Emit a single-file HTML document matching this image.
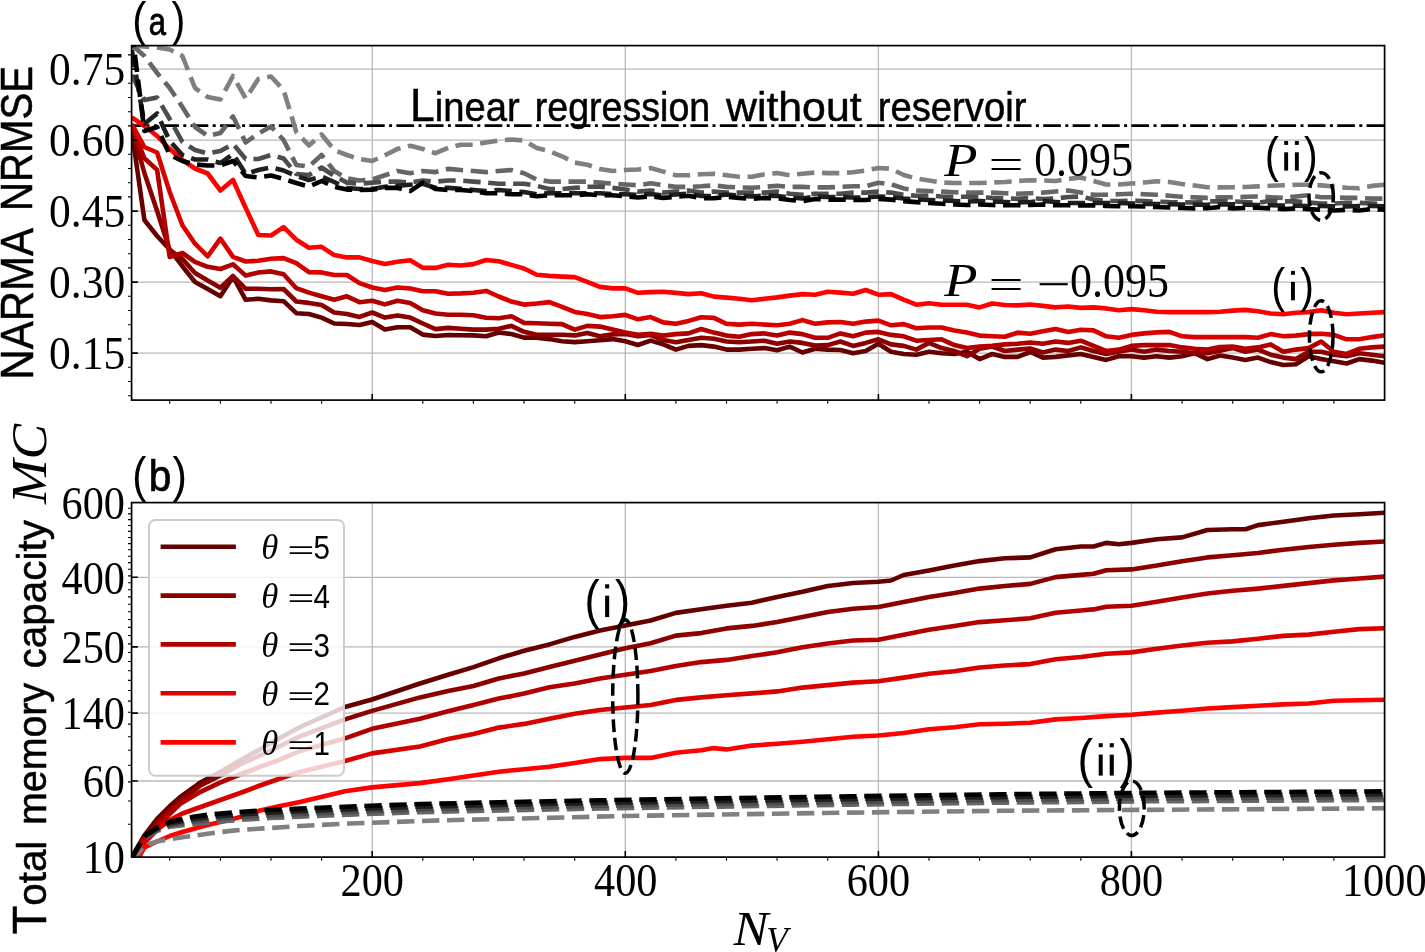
<!DOCTYPE html>
<html><head><meta charset="utf-8"><style>html,body{margin:0;padding:0;background:#fff;overflow:hidden}svg{display:block}</style></head>
<body><svg width="1425" height="952" viewBox="0 0 1425 952">
<defs>
<clipPath id="ca"><rect x="131.6" y="45.6" width="1253.0" height="354.5"/></clipPath>
<clipPath id="cb"><rect x="131.6" y="502.6" width="1253.0" height="354.5"/></clipPath>
</defs>
<rect width="1425" height="952" fill="#fff"/>
<g>
<line x1="372.2" y1="45.6" x2="372.2" y2="400.1" stroke="#b8b8b8" stroke-width="1.3"/>
<line x1="625.3" y1="45.6" x2="625.3" y2="400.1" stroke="#b8b8b8" stroke-width="1.3"/>
<line x1="878.4" y1="45.6" x2="878.4" y2="400.1" stroke="#b8b8b8" stroke-width="1.3"/>
<line x1="1131.4" y1="45.6" x2="1131.4" y2="400.1" stroke="#b8b8b8" stroke-width="1.3"/>
<line x1="131.6" y1="353.1" x2="1384.6" y2="353.1" stroke="#b8b8b8" stroke-width="1.3"/>
<line x1="131.6" y1="282.1" x2="1384.6" y2="282.1" stroke="#b8b8b8" stroke-width="1.3"/>
<line x1="131.6" y1="211.1" x2="1384.6" y2="211.1" stroke="#b8b8b8" stroke-width="1.3"/>
<line x1="131.6" y1="140.1" x2="1384.6" y2="140.1" stroke="#b8b8b8" stroke-width="1.3"/>
<line x1="131.6" y1="69.1" x2="1384.6" y2="69.1" stroke="#b8b8b8" stroke-width="1.3"/>
</g>
<g clip-path="url(#ca)">
<line x1="131.8" y1="125.7" x2="1384.6" y2="125.7" stroke="#000" stroke-width="2.8" stroke-dasharray="17.7 4.4 3.0 4.3"/>
<polyline points="131.8,131.0 144.4,220.0 157.1,236.0 169.7,249.5 182.4,266.2 195.0,282.0 207.7,289.0 220.4,296.2 233.0,276.7 245.7,299.8 258.3,298.8 271.0,300.4 283.6,301.2 296.3,313.2 308.9,314.0 321.6,317.6 334.2,323.5 346.9,324.0 359.5,325.0 372.2,322.1 384.9,329.4 397.5,327.2 410.2,327.2 422.8,334.6 435.5,336.0 448.1,335.0 460.8,335.2 473.4,335.4 486.1,336.2 498.7,332.5 511.4,334.0 524.0,337.6 536.7,337.6 549.4,339.1 562.0,341.3 574.7,342.1 587.3,341.3 600.0,340.3 612.6,339.1 625.3,341.3 637.9,345.0 650.6,340.6 663.2,344.4 675.9,349.6 688.5,345.9 701.2,345.1 713.9,346.6 726.5,349.6 739.2,349.6 751.8,348.8 764.5,348.1 777.1,350.3 789.8,346.6 802.4,352.5 815.1,348.8 827.7,349.6 840.4,350.0 853.1,353.2 865.7,351.0 878.4,343.7 891.0,351.8 903.7,354.0 916.3,354.7 929.0,351.8 941.6,353.2 954.3,354.0 966.9,351.8 979.6,359.1 992.2,354.0 1004.9,356.9 1017.6,356.9 1030.2,352.0 1042.9,357.6 1055.5,356.9 1068.2,355.4 1080.8,354.0 1093.5,356.9 1106.1,359.9 1118.8,356.2 1131.4,356.2 1144.1,357.6 1156.7,356.2 1169.4,357.6 1182.1,356.2 1194.7,353.2 1207.4,359.1 1220.0,355.5 1232.7,357.6 1245.3,359.9 1258.0,357.6 1270.6,362.1 1283.3,365.0 1295.9,364.3 1308.6,356.2 1321.2,359.1 1333.9,361.3 1346.6,363.5 1359.2,359.1 1371.9,360.6 1384.5,362.8" fill="none" stroke="#660000" stroke-width="4.6" stroke-linejoin="round" stroke-linecap="butt"/>
<polyline points="131.8,128.0 144.4,173.0 157.1,211.0 169.7,250.0 182.4,259.0 195.0,273.0 207.7,280.5 220.4,287.8 233.0,276.0 245.7,288.8 258.3,288.8 271.0,289.3 283.6,289.0 296.3,301.5 308.9,302.9 321.6,305.1 334.2,312.5 346.9,314.0 359.5,316.9 372.2,312.5 384.9,317.6 397.5,315.4 410.2,317.6 422.8,323.5 435.5,329.1 448.1,327.9 460.8,328.7 473.4,329.6 486.1,329.6 498.7,328.8 511.4,325.9 524.0,331.8 536.7,334.7 549.4,334.7 562.0,334.7 574.7,335.4 587.3,332.9 600.0,336.2 612.6,334.4 625.3,334.0 637.9,336.2 650.6,335.0 663.2,340.0 675.9,342.2 688.5,340.0 701.2,337.8 713.9,338.8 726.5,341.5 739.2,342.2 751.8,341.5 764.5,340.7 777.1,343.7 789.8,341.5 802.4,342.9 815.1,345.6 827.7,345.1 840.4,341.5 853.1,345.9 865.7,342.9 878.4,339.3 891.0,344.4 903.7,345.9 916.3,349.6 929.0,342.9 941.6,348.1 954.3,351.0 966.9,356.2 979.6,348.8 992.2,346.6 1004.9,351.0 1017.6,349.6 1030.2,348.5 1042.9,352.5 1055.5,349.6 1068.2,351.0 1080.8,347.4 1093.5,351.0 1106.1,354.0 1118.8,351.8 1131.4,349.6 1144.1,351.8 1156.7,349.6 1169.4,351.0 1182.1,351.8 1194.7,353.2 1207.4,353.2 1220.0,350.7 1232.7,348.1 1245.3,351.8 1258.0,349.6 1270.6,354.7 1283.3,357.6 1295.9,359.1 1308.6,351.8 1321.2,351.8 1333.9,354.7 1346.6,356.2 1359.2,353.2 1371.9,354.7 1384.5,356.2" fill="none" stroke="#8c0000" stroke-width="4.6" stroke-linejoin="round" stroke-linecap="butt"/>
<polyline points="131.8,126.0 144.4,158.3 157.1,169.9 169.7,257.0 182.4,253.0 195.0,261.8 207.7,266.8 220.4,269.0 233.0,264.3 245.7,275.6 258.3,272.5 271.0,271.4 283.6,274.3 296.3,288.2 308.9,292.6 321.6,296.3 334.2,299.7 346.9,296.3 359.5,302.2 372.2,300.7 384.9,304.4 397.5,300.7 410.2,302.9 422.8,310.3 435.5,313.5 448.1,314.7 460.8,314.8 473.4,315.3 486.1,317.8 498.7,318.2 511.4,316.3 524.0,322.9 536.7,323.2 549.4,323.7 562.0,324.1 574.7,329.6 587.3,325.9 600.0,326.6 612.6,329.6 625.3,332.5 637.9,334.7 650.6,333.7 663.2,335.6 675.9,334.1 688.5,333.4 701.2,329.0 713.9,332.6 726.5,335.6 739.2,336.8 751.8,334.1 764.5,333.4 777.1,335.6 789.8,332.6 802.4,334.1 815.1,337.8 827.7,337.8 840.4,333.4 853.1,336.3 865.7,332.6 878.4,331.9 891.0,334.9 903.7,336.3 916.3,340.7 929.0,340.0 941.6,339.3 954.3,345.1 966.9,348.1 979.6,346.6 992.2,345.9 1004.9,344.4 1017.6,343.7 1030.2,342.5 1042.9,343.7 1055.5,341.5 1068.2,342.9 1080.8,340.7 1093.5,345.9 1106.1,351.0 1118.8,349.6 1131.4,345.9 1144.1,345.1 1156.7,345.1 1169.4,345.1 1182.1,347.4 1194.7,348.8 1207.4,349.6 1220.0,347.0 1232.7,346.6 1245.3,348.8 1258.0,347.4 1270.6,344.4 1283.3,351.8 1295.9,349.6 1308.6,348.1 1321.2,341.5 1333.9,351.8 1346.6,354.0 1359.2,348.8 1371.9,347.4 1384.5,346.6" fill="none" stroke="#b20000" stroke-width="4.6" stroke-linejoin="round" stroke-linecap="butt"/>
<polyline points="131.8,124.0 144.4,147.0 157.1,152.5 169.7,192.0 182.4,225.3 195.0,243.7 207.7,256.3 220.4,238.6 233.0,256.9 245.7,261.5 258.3,260.8 271.0,258.7 283.6,258.1 296.3,263.2 308.9,272.1 321.6,272.4 334.2,275.0 346.9,275.0 359.5,283.1 372.2,287.5 384.9,290.0 397.5,287.5 410.2,288.5 422.8,291.2 435.5,291.2 448.1,293.7 460.8,293.4 473.4,292.8 486.1,290.9 498.7,296.5 511.4,301.6 524.0,304.6 536.7,303.5 549.4,302.1 562.0,306.8 574.7,311.9 587.3,314.1 600.0,317.1 612.6,316.3 625.3,314.9 637.9,319.3 650.6,317.1 663.2,322.4 675.9,323.8 688.5,320.9 701.2,317.2 713.9,317.9 726.5,323.8 739.2,324.6 751.8,323.8 764.5,324.6 777.1,325.3 789.8,323.8 802.4,320.1 815.1,323.8 827.7,322.4 840.4,322.0 853.1,323.8 865.7,321.6 878.4,320.6 891.0,325.3 903.7,324.1 916.3,328.2 929.0,327.5 941.6,327.5 954.3,330.4 966.9,332.6 979.6,335.6 992.2,336.3 1004.9,336.8 1017.6,332.6 1030.2,333.8 1042.9,331.2 1055.5,329.0 1068.2,331.9 1080.8,329.7 1093.5,330.4 1106.1,336.3 1118.8,337.8 1131.4,334.9 1144.1,333.4 1156.7,332.4 1169.4,331.9 1182.1,336.3 1194.7,337.1 1207.4,337.1 1220.0,337.1 1232.7,337.1 1245.3,337.1 1258.0,337.8 1270.6,334.1 1283.3,336.3 1295.9,335.6 1308.6,334.1 1321.2,333.8 1333.9,334.9 1346.6,339.3 1359.2,339.3 1371.9,337.1 1384.5,335.3" fill="none" stroke="#d90000" stroke-width="4.6" stroke-linejoin="round" stroke-linecap="butt"/>
<polyline points="131.8,117.5 144.4,126.0 157.1,136.0 169.7,149.0 182.4,160.0 195.0,168.5 207.7,173.5 220.4,190.5 233.0,180.0 245.7,208.0 258.3,235.0 271.0,235.5 283.6,227.2 296.3,239.7 308.9,247.8 321.6,246.8 334.2,255.1 346.9,257.4 359.5,257.4 372.2,261.0 384.9,264.0 397.5,261.8 410.2,260.3 422.8,267.9 435.5,267.9 448.1,264.7 460.8,265.5 473.4,264.1 486.1,260.0 498.7,261.2 511.4,264.9 524.0,268.5 536.7,274.7 549.4,275.9 562.0,276.6 574.7,277.1 587.3,281.8 600.0,286.9 612.6,288.4 625.3,288.4 637.9,292.8 650.6,292.1 663.2,291.8 675.9,292.9 688.5,294.1 701.2,293.2 713.9,296.6 726.5,297.6 739.2,298.8 751.8,300.3 764.5,298.8 777.1,297.4 789.8,295.6 802.4,294.1 815.1,294.7 827.7,291.8 840.4,292.6 853.1,293.7 865.7,290.0 878.4,294.7 891.0,294.1 903.7,299.6 916.3,304.7 929.0,303.2 941.6,304.7 954.3,304.7 966.9,304.7 979.6,307.4 992.2,303.5 1004.9,305.0 1017.6,305.4 1030.2,304.5 1042.9,305.9 1055.5,307.4 1068.2,306.5 1080.8,307.9 1093.5,307.4 1106.1,308.4 1118.8,310.3 1131.4,309.1 1144.1,310.3 1156.7,311.8 1169.4,312.1 1182.1,312.1 1194.7,312.1 1207.4,312.1 1220.0,311.7 1232.7,310.6 1245.3,309.9 1258.0,311.3 1270.6,313.5 1283.3,314.3 1295.9,312.8 1308.6,312.1 1321.2,310.3 1333.9,312.8 1346.6,314.3 1359.2,313.5 1371.9,312.8 1384.5,312.1" fill="none" stroke="#ff0000" stroke-width="4.6" stroke-linejoin="round" stroke-linecap="butt"/>
<polyline points="131.8,46.0 144.4,46.5 157.1,47.5 169.7,49.5 182.4,56.0 195.0,88.0 207.7,97.0 220.4,99.5 233.0,76.0 245.7,98.5 258.3,79.0 271.0,76.5 283.6,90.0 296.3,132.0 308.9,145.5 321.6,134.5 334.2,150.0 346.9,155.0 359.5,159.0 372.2,161.0 384.9,155.3 397.5,148.9 410.2,145.8 422.8,148.9 435.5,153.2 448.1,147.9 460.8,144.7 473.4,144.7 486.1,142.6 498.7,140.5 511.4,139.5 524.0,140.5 536.7,147.9 549.4,151.1 562.0,156.3 574.7,162.6 587.3,164.7 600.0,168.9 612.6,171.0 625.3,170.0 637.9,169.5 650.6,168.0 663.2,171.6 675.9,175.2 688.5,175.2 701.2,174.3 713.9,173.7 726.5,175.2 739.2,176.8 751.8,176.8 764.5,174.3 777.1,173.1 789.8,175.2 802.4,173.7 815.1,172.6 827.7,173.1 840.4,173.1 853.1,172.2 865.7,170.5 878.4,168.0 891.0,168.8 903.7,175.0 916.3,178.5 929.0,180.5 941.6,182.5 954.3,183.0 966.9,183.0 979.6,183.0 992.2,182.5 1004.9,182.0 1017.6,181.0 1030.2,180.2 1042.9,180.5 1055.5,181.0 1068.2,179.0 1080.8,177.5 1093.5,181.0 1106.1,184.5 1118.8,184.5 1131.4,183.5 1144.1,182.5 1156.7,181.3 1169.4,182.0 1182.1,184.0 1194.7,185.5 1207.4,187.2 1220.0,187.4 1232.7,187.2 1245.3,187.0 1258.0,186.4 1270.6,185.8 1283.3,185.3 1295.9,184.7 1308.6,184.8 1321.2,185.4 1333.9,186.5 1346.6,187.8 1359.2,188.2 1371.9,185.9 1384.5,184.8" fill="none" stroke="#808080" stroke-width="4.6" stroke-linejoin="round" stroke-linecap="butt" stroke-dasharray="17.4 7.6"/>
<polyline points="131.8,45.0 144.4,56.0 157.1,73.0 169.7,88.0 182.4,107.0 195.0,127.0 207.7,136.0 220.4,133.0 233.0,116.5 245.7,142.5 258.3,133.5 271.0,126.5 283.6,140.0 296.3,165.0 308.9,166.5 321.6,155.0 334.2,171.0 346.9,178.4 359.5,180.5 372.2,179.5 384.9,175.3 397.5,171.0 410.2,173.2 422.8,171.0 435.5,172.1 448.1,168.9 460.8,170.0 473.4,171.0 486.1,172.1 498.7,171.0 511.4,170.0 524.0,173.2 536.7,179.5 549.4,181.6 562.0,181.6 574.7,181.6 587.3,181.6 600.0,182.6 612.6,183.7 625.3,184.5 637.9,185.3 650.6,183.2 663.2,185.3 675.9,186.9 688.5,186.9 701.2,186.3 713.9,185.3 726.5,186.9 739.2,187.4 751.8,187.8 764.5,186.9 777.1,185.7 789.8,186.9 802.4,186.9 815.1,187.4 827.7,187.4 840.4,186.9 853.1,186.3 865.7,186.3 878.4,182.7 891.0,184.2 903.7,188.4 916.3,190.5 929.0,191.0 941.6,191.6 954.3,192.2 966.9,192.6 979.6,192.6 992.2,192.6 1004.9,193.2 1017.6,193.7 1030.2,193.2 1042.9,192.6 1055.5,191.5 1068.2,190.5 1080.8,192.5 1093.5,194.7 1106.1,194.7 1118.8,194.2 1131.4,193.7 1144.1,194.2 1156.7,194.7 1169.4,195.7 1182.1,196.8 1194.7,197.4 1207.4,197.9 1220.0,197.2 1232.7,197.2 1245.3,196.8 1258.0,196.5 1270.6,197.2 1283.3,197.9 1295.9,196.5 1308.6,195.1 1321.2,197.2 1333.9,197.2 1346.6,197.9 1359.2,197.9 1371.9,198.6 1384.5,198.6" fill="none" stroke="#666666" stroke-width="4.6" stroke-linejoin="round" stroke-linecap="butt" stroke-dasharray="17.4 7.6"/>
<polyline points="131.8,75.0 144.4,100.0 157.1,97.5 169.7,119.0 182.4,142.0 195.0,150.0 207.7,153.5 220.4,151.0 233.0,144.0 245.7,159.0 258.3,159.0 271.0,155.0 283.6,158.5 296.3,174.0 308.9,175.0 321.6,167.5 334.2,176.0 346.9,182.6 359.5,183.7 372.2,182.6 384.9,181.6 397.5,181.6 410.2,182.6 422.8,180.5 435.5,181.6 448.1,180.5 460.8,180.5 473.4,181.6 486.1,182.6 498.7,183.7 511.4,183.7 524.0,183.7 536.7,185.8 549.4,189.0 562.0,189.0 574.7,187.9 587.3,186.8 600.0,186.8 612.6,187.9 625.3,189.5 637.9,191.6 650.6,190.5 663.2,192.6 675.9,191.6 688.5,190.5 701.2,192.6 713.9,191.6 726.5,192.6 739.2,192.6 751.8,192.6 764.5,192.6 777.1,191.6 789.8,193.7 802.4,194.7 815.1,193.7 827.7,193.7 840.4,193.7 853.1,192.6 865.7,192.6 878.4,191.6 891.0,192.6 903.7,194.7 916.3,195.8 929.0,195.5 941.6,196.5 954.3,196.8 966.9,196.8 979.6,197.2 992.2,197.9 1004.9,198.3 1017.6,198.9 1030.2,198.0 1042.9,199.0 1055.5,198.5 1068.2,197.0 1080.8,196.5 1093.5,199.5 1106.1,201.0 1118.8,201.0 1131.4,200.8 1144.1,201.1 1156.7,201.6 1169.4,202.1 1182.1,202.3 1194.7,202.5 1207.4,201.4 1220.0,201.4 1232.7,201.4 1245.3,202.0 1258.0,202.8 1270.6,200.7 1283.3,201.4 1295.9,201.4 1308.6,202.5 1321.2,203.5 1333.9,203.5 1346.6,202.8 1359.2,202.8 1371.9,203.5 1384.5,204.0" fill="none" stroke="#4d4d4d" stroke-width="4.6" stroke-linejoin="round" stroke-linecap="butt" stroke-dasharray="17.4 7.6"/>
<polyline points="131.8,50.0 144.4,124.0 157.1,113.5 169.7,141.0 182.4,155.0 195.0,159.5 207.7,159.5 220.4,163.0 233.0,154.0 245.7,174.0 258.3,170.0 271.0,167.5 283.6,170.5 296.3,176.0 308.9,180.0 321.6,176.5 334.2,182.0 346.9,188.0 359.5,189.0 372.2,188.9 384.9,186.8 397.5,185.8 410.2,184.7 422.8,183.7 435.5,187.9 448.1,187.9 460.8,188.9 473.4,190.0 486.1,191.1 498.7,190.0 511.4,191.1 524.0,192.1 536.7,194.2 549.4,193.2 562.0,193.2 574.7,193.2 587.3,193.2 600.0,193.2 612.6,194.2 625.3,194.2 637.9,195.0 650.6,194.0 663.2,195.5 675.9,194.5 688.5,193.5 701.2,196.0 713.9,196.0 726.5,194.5 739.2,195.5 751.8,196.5 764.5,195.5 777.1,196.0 789.8,197.5 802.4,198.5 815.1,196.5 827.7,197.0 840.4,197.0 853.1,197.5 865.7,197.5 878.4,196.5 891.0,197.0 903.7,198.5 916.3,199.5 929.0,200.0 941.6,200.5 954.3,201.0 966.9,201.5 979.6,201.0 992.2,201.5 1004.9,202.0 1017.6,202.5 1030.2,202.0 1042.9,201.0 1055.5,202.0 1068.2,203.0 1080.8,203.0 1093.5,203.0 1106.1,203.0 1118.8,203.0 1131.4,203.5 1144.1,204.0 1156.7,204.0 1169.4,204.3 1182.1,204.5 1194.7,204.7 1207.4,204.7 1220.0,204.5 1232.7,204.3 1245.3,204.7 1258.0,205.0 1270.6,205.3 1283.3,205.5 1295.9,205.7 1308.6,206.0 1321.2,206.0 1333.9,206.3 1346.6,206.5 1359.2,206.0 1371.9,206.0 1384.5,206.3" fill="none" stroke="#1f1f1f" stroke-width="4.6" stroke-linejoin="round" stroke-linecap="butt" stroke-dasharray="17.4 7.6"/>
<polyline points="131.8,30.0 144.4,131.0 157.1,127.0 169.7,155.0 182.4,161.0 195.0,164.5 207.7,165.5 220.4,165.5 233.0,161.0 245.7,176.0 258.3,177.5 271.0,175.5 283.6,179.0 296.3,183.0 308.9,186.5 321.6,181.0 334.2,186.8 346.9,189.6 359.5,190.0 372.2,189.6 384.9,187.9 397.5,187.9 410.2,191.1 422.8,182.6 435.5,188.9 448.1,190.0 460.8,190.0 473.4,191.1 486.1,193.2 498.7,193.2 511.4,194.2 524.0,194.2 536.7,196.3 549.4,195.3 562.0,195.3 574.7,195.3 587.3,194.2 600.0,195.3 612.6,195.3 625.3,196.3 637.9,197.5 650.6,196.2 663.2,197.9 675.9,196.8 688.5,195.8 701.2,198.3 713.9,198.3 726.5,196.8 739.2,197.9 751.8,198.9 764.5,197.9 777.1,198.3 789.8,200.0 802.4,201.1 815.1,198.9 827.7,199.6 840.4,199.6 853.1,200.0 865.7,200.0 878.4,198.9 891.0,199.6 903.7,201.1 916.3,202.1 929.0,203.0 941.6,203.8 954.3,204.5 966.9,205.0 979.6,204.5 992.2,205.0 1004.9,205.3 1017.6,205.3 1030.2,205.0 1042.9,204.5 1055.5,205.3 1068.2,205.3 1080.8,205.5 1093.5,205.3 1106.1,206.0 1118.8,206.3 1131.4,206.3 1144.1,206.5 1156.7,207.0 1169.4,207.5 1182.1,208.0 1194.7,208.4 1207.4,208.2 1220.0,207.0 1232.7,208.4 1245.3,208.0 1258.0,207.7 1270.6,208.4 1283.3,209.1 1295.9,208.4 1308.6,209.1 1321.2,209.8 1333.9,210.5 1346.6,209.8 1359.2,210.5 1371.9,209.1 1384.5,209.8" fill="none" stroke="#000000" stroke-width="4.6" stroke-linejoin="round" stroke-linecap="butt" stroke-dasharray="17.4 7.6"/>
</g>
<g>
<line x1="372.2" y1="502.6" x2="372.2" y2="857.1" stroke="#b8b8b8" stroke-width="1.3"/>
<line x1="625.3" y1="502.6" x2="625.3" y2="857.1" stroke="#b8b8b8" stroke-width="1.3"/>
<line x1="878.4" y1="502.6" x2="878.4" y2="857.1" stroke="#b8b8b8" stroke-width="1.3"/>
<line x1="1131.4" y1="502.6" x2="1131.4" y2="857.1" stroke="#b8b8b8" stroke-width="1.3"/>
<line x1="131.6" y1="781.0" x2="1384.6" y2="781.0" stroke="#b8b8b8" stroke-width="1.3"/>
<line x1="131.6" y1="713.1" x2="1384.6" y2="713.1" stroke="#b8b8b8" stroke-width="1.3"/>
<line x1="131.6" y1="646.9" x2="1384.6" y2="646.9" stroke="#b8b8b8" stroke-width="1.3"/>
<line x1="131.6" y1="577.3" x2="1384.6" y2="577.3" stroke="#b8b8b8" stroke-width="1.3"/>
</g>
<g clip-path="url(#cb)">
<polyline points="131.8,857.0 144.4,835.3 157.1,818.9 169.7,806.3 180.0,797.1 195.0,786.5 200.0,782.7 220.0,772.0 240.0,760.6 260.0,749.2 280.0,738.0 300.0,727.0 345.0,707.0 372.0,699.5 420.0,683.5 448.1,674.7 473.5,667.1 498.8,658.3 524.1,650.7 549.4,644.4 574.7,636.9 600.0,630.6 625.3,625.5 650.6,620.5 675.9,612.9 701.2,609.2 726.6,605.7 751.9,602.7 777.2,596.9 802.5,591.8 827.8,586.0 853.1,583.0 878.4,581.8 891.0,580.5 903.7,575.0 929.0,570.4 954.3,565.4 979.6,561.1 1004.9,558.3 1030.3,557.4 1055.6,549.2 1080.9,546.5 1093.6,546.5 1106.2,542.9 1118.9,544.3 1131.5,542.9 1156.8,539.3 1182.1,537.4 1207.4,530.0 1232.7,529.2 1245.5,529.2 1258.0,525.1 1283.4,521.8 1308.7,518.3 1334.0,515.5 1359.3,514.2 1384.6,512.8" fill="none" stroke="#660000" stroke-width="4.6" stroke-linejoin="round" stroke-linecap="butt"/>
<polyline points="131.8,857.0 144.4,837.8 157.1,822.7 169.7,810.1 180.0,801.0 200.0,785.8 220.0,775.7 240.0,764.4 260.0,755.5 280.0,746.1 300.0,736.4 345.0,719.4 372.0,710.9 420.0,697.4 448.1,691.1 473.5,686.0 498.8,678.5 524.1,673.4 549.4,667.1 574.7,660.8 600.0,654.5 625.3,648.2 650.6,643.2 675.9,635.6 701.2,633.1 726.6,628.4 751.9,625.9 777.2,622.1 802.5,617.1 827.8,612.0 853.1,608.7 878.4,607.0 903.7,601.9 929.0,596.9 954.3,593.1 979.6,588.6 1004.9,586.0 1030.3,583.9 1055.6,577.1 1080.9,574.9 1093.6,573.8 1106.2,570.3 1131.5,569.4 1156.8,565.6 1182.1,561.2 1207.4,557.4 1232.7,555.2 1258.0,553.0 1283.4,549.7 1308.7,547.0 1334.0,544.8 1359.3,542.9 1384.6,541.5" fill="none" stroke="#8c0000" stroke-width="4.6" stroke-linejoin="round" stroke-linecap="butt"/>
<polyline points="131.8,857.0 144.4,839.0 157.1,826.0 169.7,814.0 180.0,804.0 200.0,792.1 220.0,782.7 240.0,774.5 260.0,766.9 280.0,759.6 300.0,751.0 345.0,738.3 372.0,728.8 420.0,718.8 448.1,711.2 473.5,704.9 498.8,698.6 524.1,693.6 549.4,687.3 574.7,683.5 600.0,678.5 625.3,674.7 650.6,670.9 675.9,665.9 701.2,662.1 726.6,659.9 751.9,656.1 777.2,652.3 802.5,647.3 827.8,643.5 853.1,640.5 878.4,639.7 903.7,634.7 929.0,629.7 954.3,625.9 979.6,622.1 1004.9,620.3 1030.3,618.2 1055.6,612.7 1080.9,610.5 1093.6,609.4 1106.2,606.7 1131.5,605.8 1156.8,601.7 1182.1,597.6 1207.4,593.5 1232.7,590.8 1258.0,588.6 1283.4,585.9 1308.7,583.1 1334.0,580.4 1359.3,578.5 1384.6,576.6" fill="none" stroke="#b20000" stroke-width="4.6" stroke-linejoin="round" stroke-linecap="butt"/>
<polyline points="131.8,860.0 144.4,843.0 157.1,830.0 169.7,820.0 182.4,813.5 195.0,809.0 207.7,804.5 220.3,800.0 233.0,795.5 245.7,791.0 260.0,785.5 280.0,778.5 300.0,772.0 345.0,761.0 372.0,753.4 420.0,746.5 448.1,739.0 473.5,733.9 498.8,727.6 524.1,723.9 549.4,718.8 574.7,713.8 600.0,710.0 625.3,707.5 650.6,705.0 675.9,699.9 701.2,697.4 726.6,695.2 751.9,693.4 777.2,691.4 802.5,687.6 827.8,685.1 853.1,682.6 878.4,681.3 903.7,677.6 929.0,673.8 954.3,671.3 979.6,667.5 1004.9,665.5 1030.3,664.1 1055.6,659.2 1080.9,657.0 1106.2,653.7 1131.5,652.4 1156.8,648.8 1182.1,645.5 1207.4,642.8 1232.7,641.4 1258.0,638.7 1283.4,635.9 1308.7,634.6 1334.0,631.8 1359.3,629.1 1384.6,628.3" fill="none" stroke="#d90000" stroke-width="4.6" stroke-linejoin="round" stroke-linecap="butt"/>
<polyline points="131.8,870.0 144.4,847.5 157.1,841.5 169.7,836.0 182.4,832.0 195.0,828.5 207.7,825.0 220.3,822.0 233.0,819.0 245.7,815.5 260.0,810.5 280.0,806.0 300.0,802.0 345.0,791.2 372.0,787.4 420.0,783.1 448.1,779.3 473.5,775.5 498.8,771.7 524.1,769.2 549.4,766.7 574.7,762.9 600.0,759.1 625.3,757.9 650.6,757.9 675.9,752.8 701.2,750.3 713.9,748.1 726.6,749.4 751.9,745.6 777.2,743.8 802.5,741.8 827.8,739.3 853.1,736.8 878.4,735.5 903.7,733.0 929.0,729.2 954.3,727.2 979.6,724.2 1004.9,723.7 1030.3,722.7 1055.6,719.4 1080.9,718.0 1106.2,716.1 1131.5,714.8 1156.8,712.6 1182.1,710.7 1207.4,708.5 1232.7,707.1 1258.0,705.7 1283.4,704.4 1308.7,703.5 1334.0,700.8 1359.3,700.3 1384.6,699.7" fill="none" stroke="#ff0000" stroke-width="4.6" stroke-linejoin="round" stroke-linecap="butt"/>
<polyline points="131.8,862.0 144.4,845.6 157.1,841.4 169.7,839.3 182.4,837.2 195.0,835.5 207.7,833.8 220.3,832.1 233.0,830.6 245.7,829.6 300.0,826.0 350.0,823.5 440.0,820.4 625.0,816.0 720.0,814.5 850.0,812.6 1000.0,810.8 1200.0,809.5 1384.6,808.3" fill="none" stroke="#808080" stroke-width="4.6" stroke-linejoin="round" stroke-linecap="butt" stroke-dasharray="17.4 7.6"/>
<polyline points="131.8,859.0 144.4,838.0 157.1,830.9 169.7,826.7 182.4,825.1 195.0,824.0 207.7,822.8 220.3,821.5 233.0,820.5 245.7,819.5 270.0,818.0 300.0,816.7 350.0,814.6 420.0,812.2 500.0,810.4 600.0,808.5 720.0,806.6 850.0,804.6 1000.0,802.7 1150.0,801.3 1300.0,800.5 1384.6,800.0" fill="none" stroke="#666666" stroke-width="4.6" stroke-linejoin="round" stroke-linecap="butt" stroke-dasharray="17.4 7.6"/>
<polyline points="131.8,858.7 144.4,837.3 157.1,829.8 169.7,825.2 182.4,823.1 195.0,821.5 207.7,820.1 220.3,818.8 233.0,817.8 245.7,816.8 270.0,815.4 300.0,814.0 350.0,811.9 420.0,809.5 500.0,807.6 600.0,805.8 720.0,803.8 850.0,801.9 1000.0,799.9 1150.0,798.5 1300.0,797.6 1384.6,797.1" fill="none" stroke="#4d4d4d" stroke-width="4.6" stroke-linejoin="round" stroke-linecap="butt" stroke-dasharray="17.4 7.6"/>
<polyline points="131.8,858.3 144.4,836.7 157.1,828.6 169.7,823.6 182.4,821.0 195.0,819.0 207.7,817.5 220.3,816.2 233.0,815.2 245.7,814.2 270.0,812.7 300.0,811.3 350.0,809.2 420.0,806.8 500.0,804.9 600.0,803.0 720.0,801.1 850.0,799.1 1000.0,797.1 1150.0,795.6 1300.0,794.8 1384.6,794.3" fill="none" stroke="#1f1f1f" stroke-width="4.6" stroke-linejoin="round" stroke-linecap="butt" stroke-dasharray="17.4 7.6"/>
<polyline points="131.8,858.0 144.4,836.0 157.1,827.5 169.7,822.0 182.4,819.0 195.0,816.5 207.7,814.8 220.3,813.5 233.0,812.5 245.7,811.5 270.0,810.0 300.0,808.6 350.0,806.5 420.0,804.1 500.0,802.2 600.0,800.3 720.0,798.3 850.0,796.3 1000.0,794.3 1150.0,792.8 1300.0,791.9 1384.6,791.4" fill="none" stroke="#000000" stroke-width="4.6" stroke-linejoin="round" stroke-linecap="butt" stroke-dasharray="17.4 7.6"/>
</g>
<path d="M1333.40,196.50 A12.2,23.8 0 1 0 1309.00,196.50 A12.2,23.8 0 1 0 1333.40,196.50" fill="none" stroke="#000" stroke-width="3.5" stroke-dasharray="12.6 5.6"/>
<path d="M1333.00,336.30 A11.8,35.5 0 1 0 1309.40,336.30 A11.8,35.5 0 1 0 1333.00,336.30" fill="none" stroke="#000" stroke-width="3.5" stroke-dasharray="12.6 5.6"/>
<path d="M637.90,696.50 A12.6,76.8 0 1 0 612.70,696.50 A12.6,76.8 0 1 0 637.90,696.50" fill="none" stroke="#000" stroke-width="3.5" stroke-dasharray="12.6 5.6"/>
<path d="M1144.20,808.20 A12.4,27.2 0 1 0 1119.40,808.20 A12.4,27.2 0 1 0 1144.20,808.20" fill="none" stroke="#000" stroke-width="3.5" stroke-dasharray="12.6 5.6"/>
<rect x="149.0" y="520.0" width="195.0" height="255.8" rx="6.5" ry="6.5" fill="#fff" fill-opacity="0.8" stroke="#cccccc" stroke-width="1.9"/>
<line x1="160.6" y1="546.8" x2="235.9" y2="546.8" stroke="#660000" stroke-width="4.6"/>
<line x1="160.6" y1="595.6" x2="235.9" y2="595.6" stroke="#8c0000" stroke-width="4.6"/>
<line x1="160.6" y1="644.4" x2="235.9" y2="644.4" stroke="#b20000" stroke-width="4.6"/>
<line x1="160.6" y1="693.2" x2="235.9" y2="693.2" stroke="#d90000" stroke-width="4.6"/>
<line x1="160.6" y1="742.4" x2="235.9" y2="742.4" stroke="#ff0000" stroke-width="4.6"/>
<rect x="131.6" y="45.6" width="1253.0" height="354.5" stroke="#000" stroke-width="1.7" fill="none"/>
<rect x="131.6" y="502.6" width="1253.0" height="354.5" stroke="#000" stroke-width="1.7" fill="none"/>
<path d="M372.2,400.1v-6.2 M625.3,400.1v-6.2 M878.4,400.1v-6.2 M1131.4,400.1v-6.2 M372.2,857.1v-6.2 M625.3,857.1v-6.2 M878.4,857.1v-6.2 M1131.4,857.1v-6.2" stroke="#000" stroke-width="1.6"/>
<path d="M169.7,400.1v3.6 M220.4,400.1v3.6 M271.0,400.1v3.6 M321.6,400.1v3.6 M422.8,400.1v3.6 M473.4,400.1v3.6 M524.0,400.1v3.6 M574.7,400.1v3.6 M675.9,400.1v3.6 M726.5,400.1v3.6 M777.1,400.1v3.6 M827.7,400.1v3.6 M929.0,400.1v3.6 M979.6,400.1v3.6 M1030.2,400.1v3.6 M1080.8,400.1v3.6 M1182.1,400.1v3.6 M1232.7,400.1v3.6 M1283.3,400.1v3.6 M1333.9,400.1v3.6 M169.7,857.1v3.6 M220.4,857.1v3.6 M271.0,857.1v3.6 M321.6,857.1v3.6 M422.8,857.1v3.6 M473.4,857.1v3.6 M524.0,857.1v3.6 M574.7,857.1v3.6 M675.9,857.1v3.6 M726.5,857.1v3.6 M777.1,857.1v3.6 M827.7,857.1v3.6 M929.0,857.1v3.6 M979.6,857.1v3.6 M1030.2,857.1v3.6 M1080.8,857.1v3.6 M1182.1,857.1v3.6 M1232.7,857.1v3.6 M1283.3,857.1v3.6 M1333.9,857.1v3.6" stroke="#000" stroke-width="1.1"/>
<path d="M131.6,353.1h6.2 M131.6,282.1h6.2 M131.6,211.1h6.2 M131.6,140.1h6.2 M131.6,69.1h6.2 M131.6,781.0h6.2 M131.6,713.1h6.2 M131.6,646.9h6.2 M131.6,577.3h6.2" stroke="#000" stroke-width="1.6"/>
<path d="M131.6,395.7h-3.6 M131.6,381.5h-3.6 M131.6,367.3h-3.6 M131.6,338.9h-3.6 M131.6,324.7h-3.6 M131.6,310.5h-3.6 M131.6,296.3h-3.6 M131.6,267.9h-3.6 M131.6,253.7h-3.6 M131.6,239.5h-3.6 M131.6,225.3h-3.6 M131.6,196.9h-3.6 M131.6,182.7h-3.6 M131.6,168.5h-3.6 M131.6,154.3h-3.6 M131.6,125.9h-3.6 M131.6,111.7h-3.6 M131.6,97.5h-3.6 M131.6,83.3h-3.6 M131.6,54.9h-3.6 M131.6,824.3h-3.6 M131.6,801.0h-3.6 M131.6,781.9h-3.6 M131.6,765.2h-3.6 M131.6,750.3h-3.6 M131.6,736.7h-3.6 M131.6,724.1h-3.6 M131.6,712.3h-3.6 M131.6,701.1h-3.6 M131.6,690.5h-3.6 M131.6,680.4h-3.6 M131.6,670.8h-3.6 M131.6,661.5h-3.6 M131.6,652.5h-3.6 M131.6,643.9h-3.6 M131.6,635.5h-3.6 M131.6,627.4h-3.6 M131.6,619.5h-3.6 M131.6,611.8h-3.6 M131.6,604.3h-3.6 M131.6,596.9h-3.6 M131.6,589.8h-3.6 M131.6,582.8h-3.6 M131.6,575.9h-3.6 M131.6,569.2h-3.6 M131.6,562.6h-3.6 M131.6,556.2h-3.6 M131.6,549.8h-3.6 M131.6,543.6h-3.6 M131.6,537.5h-3.6 M131.6,531.4h-3.6 M131.6,525.5h-3.6 M131.6,519.6h-3.6 M131.6,513.9h-3.6 M131.6,508.2h-3.6" stroke="#000" stroke-width="1.1"/>
<g style="will-change:transform">
<text transform="translate(49.05,85.40) scale(0.43540,0.46716)" font-family="Liberation Serif" font-size="100">0.75</text>
<text transform="translate(49.05,156.40) scale(0.43540,0.46716)" font-family="Liberation Serif" font-size="100">0.60</text>
<text transform="translate(49.05,227.39) scale(0.43540,0.46716)" font-family="Liberation Serif" font-size="100">0.45</text>
<text transform="translate(49.05,298.39) scale(0.43540,0.46716)" font-family="Liberation Serif" font-size="100">0.30</text>
<text transform="translate(49.05,369.38) scale(0.43540,0.46716)" font-family="Liberation Serif" font-size="100">0.15</text>
<text transform="translate(61.57,518.90) scale(0.42278,0.46716)" font-family="Liberation Serif" font-size="100">600</text>
<text transform="translate(61.57,593.61) scale(0.42278,0.46716)" font-family="Liberation Serif" font-size="100">400</text>
<text transform="translate(61.57,663.22) scale(0.42278,0.46716)" font-family="Liberation Serif" font-size="100">250</text>
<text transform="translate(61.57,729.36) scale(0.42278,0.46716)" font-family="Liberation Serif" font-size="100">140</text>
<text transform="translate(82.71,797.27) scale(0.42278,0.46716)" font-family="Liberation Serif" font-size="100">60</text>
<text transform="translate(82.71,873.45) scale(0.42278,0.46716)" font-family="Liberation Serif" font-size="100">10</text>
<text transform="translate(340.49,896.30) scale(0.42278,0.46716)" font-family="Liberation Serif" font-size="100">200</text>
<text transform="translate(593.99,896.30) scale(0.42278,0.46716)" font-family="Liberation Serif" font-size="100">400</text>
<text transform="translate(846.65,896.30) scale(0.42278,0.46716)" font-family="Liberation Serif" font-size="100">600</text>
<text transform="translate(1099.73,896.30) scale(0.42278,0.46716)" font-family="Liberation Serif" font-size="100">800</text>
<text transform="translate(1341.98,896.30) scale(0.42278,0.46716)" font-family="Liberation Serif" font-size="100">1000</text>
<text transform="translate(132.36,35.79) scale(0.42308,0.48617)" font-family="Liberation Sans" font-style="normal" font-size="100">(</text>
<text transform="translate(148.76,34.52) scale(0.30962,0.38000)" font-family="Liberation Sans" font-style="normal" font-size="100" stroke="#000" stroke-width="2.030">a</text>
<text transform="translate(171.38,35.79) scale(0.41538,0.48617)" font-family="Liberation Sans" font-style="normal" font-size="100">)</text>
<text transform="translate(132.26,492.13) scale(0.42308,0.49362)" font-family="Liberation Sans" font-style="normal" font-size="100">(</text>
<text transform="translate(148.87,491.30) scale(0.40455,0.44247)" font-family="Liberation Sans" font-style="normal" font-size="100" stroke="#000" stroke-width="1.653">b</text>
<text transform="translate(172.47,492.13) scale(0.43462,0.49362)" font-family="Liberation Sans" font-style="normal" font-size="100">)</text>
<text transform="translate(1264.86,172.13) scale(0.42308,0.49362)" font-family="Liberation Sans" font-style="normal" font-size="100">(</text>
<text transform="translate(1303.99,172.13) scale(0.41154,0.49362)" font-family="Liberation Sans" font-style="normal" font-size="100">)</text>
<rect x="1284.20" y="141.00" width="3.90" height="3.90" fill="#000"/>
<rect x="1284.20" y="152.30" width="3.90" height="18.30" fill="#000"/>
<rect x="1294.90" y="141.00" width="3.90" height="3.90" fill="#000"/>
<rect x="1294.90" y="152.30" width="3.90" height="18.30" fill="#000"/>
<text transform="translate(1271.31,301.84) scale(0.41538,0.48404)" font-family="Liberation Sans" font-style="normal" font-size="100">(</text>
<text transform="translate(1300.19,301.84) scale(0.41154,0.48404)" font-family="Liberation Sans" font-style="normal" font-size="100">)</text>
<rect x="1291.00" y="270.90" width="3.90" height="3.90" fill="#000"/>
<rect x="1291.00" y="281.90" width="3.90" height="18.40" fill="#000"/>
<text transform="translate(584.38,618.43) scale(0.45385,0.53191)" font-family="Liberation Sans" font-style="normal" font-size="100">(</text>
<text transform="translate(614.95,618.43) scale(0.45385,0.53191)" font-family="Liberation Sans" font-style="normal" font-size="100">)</text>
<rect x="605.10" y="584.30" width="4.10" height="4.10" fill="#000"/>
<rect x="605.10" y="595.70" width="4.10" height="21.40" fill="#000"/>
<text transform="translate(1077.51,777.24) scale(0.46538,0.53617)" font-family="Liberation Sans" font-style="normal" font-size="100">(</text>
<text transform="translate(1119.55,777.24) scale(0.45385,0.53617)" font-family="Liberation Sans" font-style="normal" font-size="100">)</text>
<rect x="1098.70" y="743.20" width="4.00" height="4.00" fill="#000"/>
<rect x="1098.70" y="754.60" width="4.00" height="21.00" fill="#000"/>
<rect x="1109.70" y="743.20" width="4.10" height="4.10" fill="#000"/>
<rect x="1109.70" y="754.60" width="4.10" height="21.00" fill="#000"/>
<text transform="translate(32.80,379.66) rotate(-90) scale(0.42040,0.46377)" font-family="Liberation Sans" font-style="normal" font-size="100" stroke="#000" stroke-width="1.131">NARMA</text>
<text transform="translate(32.35,210.91) rotate(-90) scale(0.40172,0.45070)" font-family="Liberation Sans" font-style="normal" font-size="100" stroke="#000" stroke-width="1.173">NRMSE</text>
<text transform="translate(46.00,934.34) rotate(-90) scale(0.46875,0.48116)" font-family="Liberation Sans" font-style="normal" font-size="100" stroke="#000" stroke-width="1.053">T<tspan font-size="86">otal</tspan></text>
<text transform="translate(46.00,825.05) rotate(-90) scale(0.45789,0.48116)" font-family="Liberation Sans" font-style="normal" font-size="100" stroke="#000" stroke-width="1.065"><tspan font-size="86">memory</tspan></text>
<text transform="translate(46.00,668.58) rotate(-90) scale(0.47074,0.48116)" font-family="Liberation Sans" font-style="normal" font-size="100" stroke="#000" stroke-width="1.051"><tspan font-size="86">capacity</tspan></text>
<text transform="translate(46.00,504.07) rotate(-90) scale(0.53421,0.50152)" font-family="Liberation Serif" font-style="italic" font-size="100">MC</text>
<text transform="translate(409.94,121.30) scale(0.44473,0.46812)" font-family="Liberation Sans" font-style="normal" font-size="100" stroke="#000" stroke-width="1.095">L<tspan font-size="86">inear</tspan></text>
<text transform="translate(534.78,121.30) scale(0.43718,0.46812)" font-family="Liberation Sans" font-style="normal" font-size="100" stroke="#000" stroke-width="1.105"><tspan font-size="86">regression</tspan></text>
<text transform="translate(726.00,121.30) scale(0.49779,0.46812)" font-family="Liberation Sans" font-style="normal" font-size="100" stroke="#000" stroke-width="1.035"><tspan font-size="86">without</tspan></text>
<text transform="translate(877.73,121.30) scale(0.44465,0.46812)" font-family="Liberation Sans" font-style="normal" font-size="100" stroke="#000" stroke-width="1.096"><tspan font-size="86">reservoir</tspan></text>
<text transform="translate(944.20,175.60) scale(0.54407,0.46923)" font-family="Liberation Serif" font-style="italic" font-size="100">P</text>
<text transform="translate(988.38,177.54) scale(0.62340,0.41600)" font-family="Liberation Serif" font-style="normal" font-size="100">=</text>
<text transform="translate(1034.14,176.24) scale(0.43917,0.48060)" font-family="Liberation Serif" font-style="normal" font-size="100">0.095</text>
<text transform="translate(944.20,295.80) scale(0.54407,0.46923)" font-family="Liberation Serif" font-style="italic" font-size="100">P</text>
<text transform="translate(988.38,297.74) scale(0.62340,0.41600)" font-family="Liberation Serif" font-style="normal" font-size="100">=</text>
<text transform="translate(1036.68,298.64) scale(0.60426,0.44000)" font-family="Liberation Serif" font-style="normal" font-size="100">−</text>
<text transform="translate(1070.04,296.63) scale(0.44009,0.48358)" font-family="Liberation Serif" font-style="normal" font-size="100">0.095</text>
<text transform="translate(733.42,944.50) scale(0.52222,0.48923)" font-family="Liberation Serif" font-style="italic" font-size="100">N</text>
<text transform="translate(766.34,952.28) scale(0.35152,0.36119)" font-family="Liberation Serif" font-style="italic" font-size="100">V</text>
<text transform="translate(261.16,559.34) scale(0.34762,0.36479)" font-family="Liberation Serif" font-style="italic" font-size="100">θ</text>
<text transform="translate(287.50,557.68) scale(0.46042,0.23438)" font-family="Liberation Sans" font-style="normal" font-size="100">=</text>
<text transform="translate(313.52,559.06) scale(0.29574,0.33857)" font-family="Liberation Sans" font-size="100">5</text>
<text transform="translate(261.16,608.14) scale(0.34762,0.36479)" font-family="Liberation Serif" font-style="italic" font-size="100">θ</text>
<text transform="translate(287.50,606.48) scale(0.46042,0.23438)" font-family="Liberation Sans" font-style="normal" font-size="100">=</text>
<text transform="translate(313.52,607.86) scale(0.29574,0.33857)" font-family="Liberation Sans" font-size="100">4</text>
<text transform="translate(261.16,656.94) scale(0.34762,0.36479)" font-family="Liberation Serif" font-style="italic" font-size="100">θ</text>
<text transform="translate(287.50,655.28) scale(0.46042,0.23438)" font-family="Liberation Sans" font-style="normal" font-size="100">=</text>
<text transform="translate(313.52,656.66) scale(0.29574,0.33857)" font-family="Liberation Sans" font-size="100">3</text>
<text transform="translate(261.16,705.74) scale(0.34762,0.36479)" font-family="Liberation Serif" font-style="italic" font-size="100">θ</text>
<text transform="translate(287.50,704.08) scale(0.46042,0.23438)" font-family="Liberation Sans" font-style="normal" font-size="100">=</text>
<text transform="translate(313.52,705.46) scale(0.29574,0.33857)" font-family="Liberation Sans" font-size="100">2</text>
<text transform="translate(261.16,754.94) scale(0.34762,0.36479)" font-family="Liberation Serif" font-style="italic" font-size="100">θ</text>
<text transform="translate(287.50,753.28) scale(0.46042,0.23438)" font-family="Liberation Sans" font-style="normal" font-size="100">=</text>
<text transform="translate(313.52,754.66) scale(0.29574,0.33857)" font-family="Liberation Sans" font-size="100">1</text>
</g>
</svg></body></html>
